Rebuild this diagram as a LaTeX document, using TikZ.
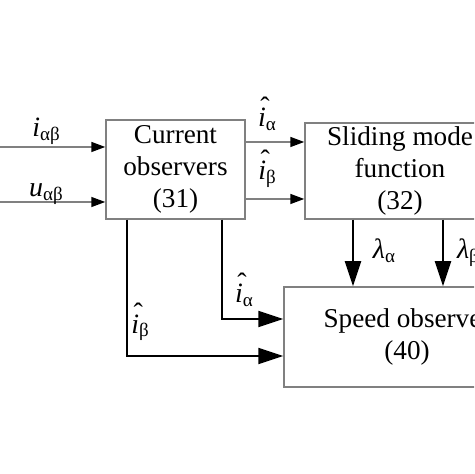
\documentclass[tikz,border=0pt]{standalone}
\usepackage{fontspec}
\setmainfont{Liberation Serif}
\usepackage{tikz}
\usetikzlibrary{arrows.meta, positioning}
\tikzset{
    blocknode/.style = {draw=gray, line width=0.75pt, rectangle, inner sep=0em,
      font=\fontsize{13.6}{16}\selectfont, align=center},
    textnode/.style  = {draw=none, fill=none, rectangle, inner sep=0em, anchor=base,
      font=\fontsize{14}{16}\selectfont},
    feed/.style = {draw=gray, line width=0.75pt, -{Triangle[length=7pt, width=5pt, black]}},
    connect/.style = {black, line width=1pt, -{Triangle[length=12.5pt, width=8pt]}},
    every text node part/.style={align=center}
}
% subscript and hatted current
\newcommand{\sub}[1]{\raisebox{-0.3ex}{\fontsize{9.5}{9.5}\selectfont #1}}
\newcommand{\hati}{\makebox[0pt][l]{\raisebox{0.36em}{\hspace{0.08em}ˆ}}\textit{i}}

\begin{document}
\begin{tikzpicture}[x=0.5pt, y=-0.5pt]
    \useasboundingbox (0,0) rectangle (474,474);
    \clip (0,0) rectangle (474,474);

    \node [name=curobs, blocknode, minimum width=69.5pt, minimum height=49.5pt]
        at (175.5,169.5) {Current\\observers\\(31)};
    \node [name=smf, blocknode, minimum width=95pt, minimum height=48pt]
        at (400,171) {Sliding mode\\function\\(32)};
    \node [name=spdobs, blocknode, minimum width=123pt, minimum height=50pt]
        at (407,337) {Speed observer\\(40)};

    % inputs
    \coordinate (iin) at (0,147);
    \coordinate (uin) at (0,202);
    \draw [feed] (iin) -- (iin -| curobs.west);
    \draw [feed] (uin) -- (uin -| curobs.west);
    \node [textnode, name=ilab] at (46,137) {\textit{i}\sub{αβ}};
    \node [textnode, name=ulab] at (46,197) {\textit{u}\sub{αβ}};

    % current estimates to sliding mode function
    \coordinate (ia) at (0,142);
    \coordinate (ib) at (0,199);
    \draw [feed] (ia -| curobs.east) -- (ia -| smf.west);
    \draw [feed] (ib -| curobs.east) -- (ib -| smf.west);
    \node [textnode, name=ialab] at (267,127) {\hati\sub{α}};
    \node [textnode, name=iblab] at (267,180) {\hati\sub{β}};

    % sliding mode outputs
    \coordinate (la) at (353,0);
    \coordinate (lb) at (443,0);
    \draw [connect] (la |- smf.south) -- (la |- spdobs.north);
    \draw [connect] (lb |- smf.south) -- (lb |- spdobs.north);
    \node [textnode, name=lalab] at (384,259) {\textit{λ}\sub{α}};
    \node [textnode, name=lblab] at (468,259) {\textit{λ}\sub{β}};

    % current estimates to speed observer
    \coordinate (ca) at (222,319);
    \coordinate (cb) at (127,356);
    \draw [connect] (ca |- curobs.south) -- (ca) -- (ca -| spdobs.west);
    \draw [connect] (cb |- curobs.south) -- (cb) -- (cb -| spdobs.west);
    \node [textnode, name=calab] at (244,303) {\hati\sub{α}};
    \node [textnode, name=cblab] at (140,333) {\hati\sub{β}};
\end{tikzpicture}
\end{document}
